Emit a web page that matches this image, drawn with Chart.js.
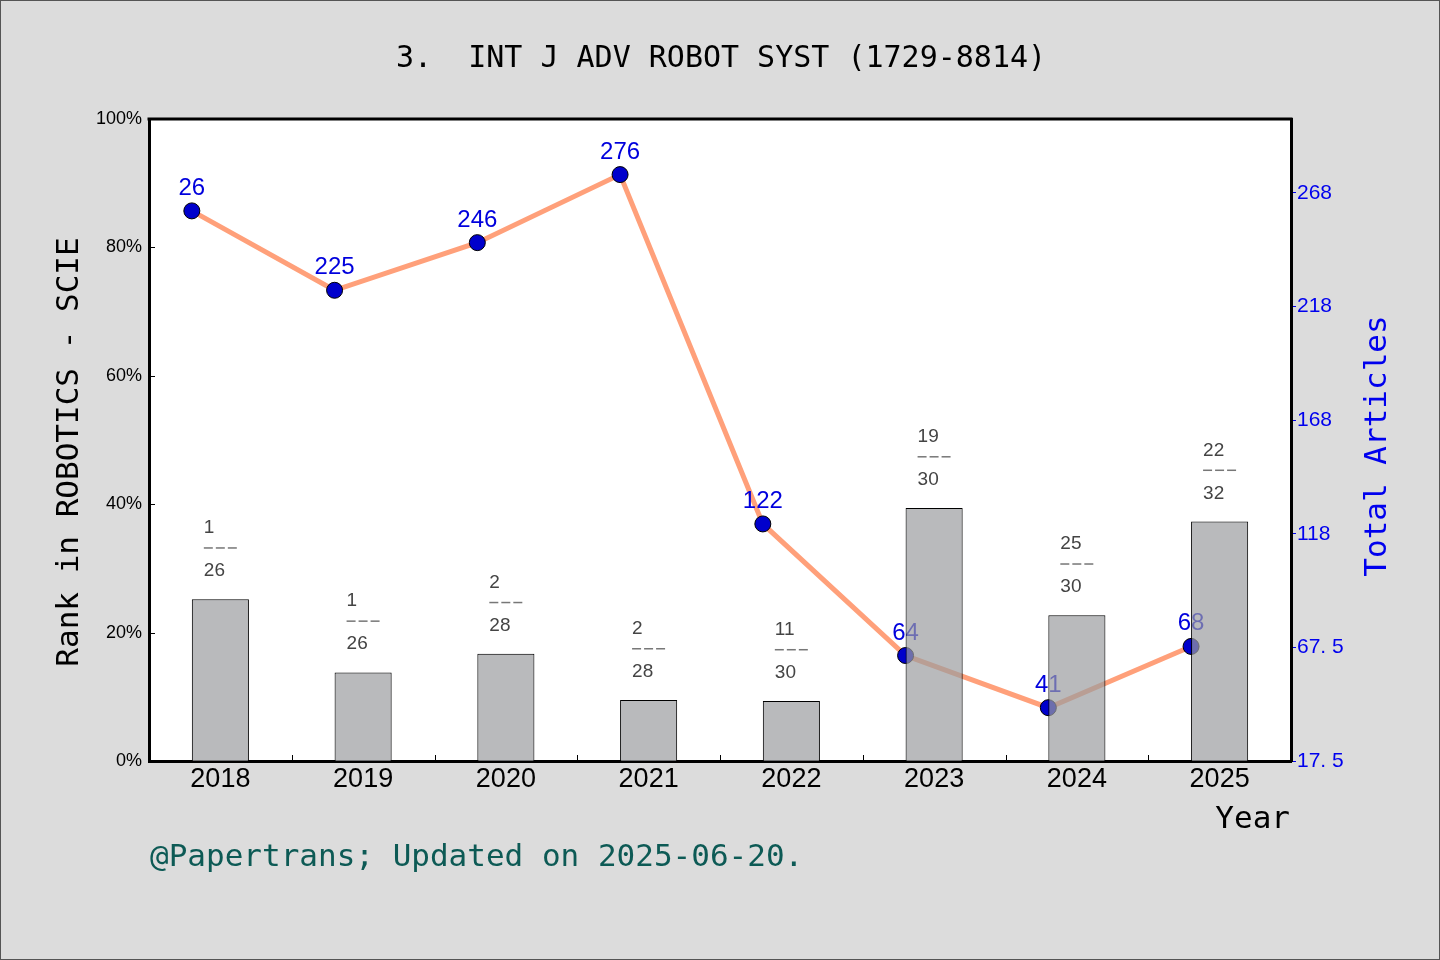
<!DOCTYPE html>
<html lang="en">
<head>
<meta charset="UTF-8">
<title>INT J ADV ROBOT SYST</title>
<script src="https://cdn.jsdelivr.net/npm/chart.js"></script>
<style>
    html, body { margin: 0; padding: 0; background: #dcdcdc; }
    canvas { display: block; }
</style>
</head>
<body>
<canvas id="grafico" width="1440" height="960"></canvas>
<script>
    // dados
    const years = ['2018', '2019', '2020', '2021', '2022', '2023', '2024', '2025'];
    const rankPercent = [25.2, 13.8, 16.7, 9.5, 9.35, 39.4, 22.7, 37.3];
    const rankTop = ['1', '1', '2', '2', '11', '19', '25', '22'];
    const rankTotal = ['26', '26', '28', '28', '30', '30', '30', '32'];
    const articles = [260, 225, 246, 276, 122, 64, 41, 68];
    const articleLabels = ['26', '225', '246', '276', '122', '64', '41', '68'];
    const leftTicks = [0, 20, 40, 60, 80, 100];
    const rightTickValues = [17.5, 67.5, 117.6, 167.7, 217.8, 267.9];
    const rightTickLabels = ['17. 5', '67. 5', '118', '168', '218', '268'];

    const lineShift = -0.2; // pontos ficam na borda esquerda da barra

    const mono = '"DejaVu Sans Mono", monospace';
    const sans = '"Liberation Sans", Arial, sans-serif';

    const fundo = {
        id: 'fundo',
        beforeDraw(chart) {
            const ctx = chart.ctx;
            const a = chart.chartArea;
            ctx.save();
            ctx.fillStyle = '#dcdcdc';
            ctx.fillRect(0, 0, chart.width, chart.height);
            ctx.strokeStyle = '#555';
            ctx.lineWidth = 1;
            ctx.strokeRect(0.5, 0.5, chart.width - 1, chart.height - 1);
            ctx.fillStyle = '#ffffff';
            ctx.fillRect(a.left, a.top, a.right - a.left, a.bottom - a.top);
            ctx.restore();
        },
        afterDatasetDraw(chart, args) {
            // rotulos da linha (ficam por baixo das barras)
            if (args.index !== 1) return;
            const ctx = chart.ctx;
            ctx.save();
            ctx.font = '24px ' + sans;
            ctx.fillStyle = '#0000dd';
            ctx.textAlign = 'center';
            ctx.textBaseline = 'alphabetic';
            args.meta.data.forEach(function (p, i) {
                ctx.fillText(articleLabels[i], p.x, p.y - 16);
            });
            ctx.restore();
        },
        afterDatasetsDraw(chart) {
            const ctx = chart.ctx;
            const a = chart.chartArea;
            const meta = chart.getDatasetMeta(0);
            ctx.save();
            ctx.font = '19px ' + sans;
            ctx.textAlign = 'left';
            ctx.textBaseline = 'alphabetic';
            meta.data.forEach(function (bar, i) {
                const x = bar.x - bar.width / 2 + 12;
                const yb = bar.y - 23;
                ctx.fillStyle = '#444';
                ctx.fillText(rankTotal[i], x, yb);
                ctx.fillText(rankTop[i], x, yb - 43);
                ctx.fillStyle = '#777';
                ctx.fillRect(x, yb - 29, 9, 1.5);
                ctx.fillRect(x + 12, yb - 29, 9, 1.5);
                ctx.fillRect(x + 24, yb - 29, 9, 1.5);
            });

            // moldura de cima
            ctx.strokeStyle = '#000';
            ctx.lineWidth = 3;
            ctx.beginPath();
            ctx.moveTo(a.left - 1.5, a.top);
            ctx.lineTo(a.right + 1.5, a.top);
            ctx.stroke();

            // ticks para dentro
            ctx.lineWidth = 1;
            const y = chart.scales.y;
            leftTicks.forEach(function (v) {
                const py = Math.round(y.getPixelForValue(v)) + 0.5;
                ctx.beginPath();
                ctx.moveTo(a.left, py);
                ctx.lineTo(a.left + 6, py);
                ctx.stroke();
            });
            const x = chart.scales.x;
            for (let i = 0; i < years.length - 1; i++) {
                const px = Math.round((x.getPixelForValue(i) + x.getPixelForValue(i + 1)) / 2) + 0.5;
                ctx.beginPath();
                ctx.moveTo(px, a.bottom);
                ctx.lineTo(px, a.bottom - 6);
                ctx.stroke();
            }
            ctx.restore();
        },
        afterDraw(chart) {
            const ctx = chart.ctx;
            ctx.save();
            ctx.textBaseline = 'alphabetic';

            ctx.font = '30px ' + mono;
            ctx.fillStyle = '#000';
            ctx.textAlign = 'center';
            ctx.fillText('3.  INT J ADV ROBOT SYST (1729-8814)', 721, 67);

            ctx.font = '31px ' + mono;
            ctx.textAlign = 'right';
            ctx.fillText('Year', 1290, 828);

            ctx.textAlign = 'left';
            ctx.fillStyle = '#0d5a55';
            ctx.fillText('@Papertrans; Updated on 2025-06-20.', 150, 866);

            ctx.save();
            ctx.translate(78, 452);
            ctx.rotate(-Math.PI / 2);
            ctx.textAlign = 'center';
            ctx.fillStyle = '#000';
            ctx.fillText('Rank in ROBOTICS - SCIE', 0, 0);
            ctx.restore();

            ctx.save();
            ctx.translate(1386, 446);
            ctx.rotate(-Math.PI / 2);
            ctx.textAlign = 'center';
            ctx.fillStyle = '#0000ee';
            ctx.fillText('Total Articles', 0, 0);
            ctx.restore();

            ctx.restore();
        }
    };

    const dados = {
        labels: years,
        datasets: [{
            type: 'bar',
            label: 'Rank',
            data: rankPercent,
            backgroundColor: 'rgba(155,157,160,0.7)',
            borderColor: '#000',
            borderWidth: 1,
            barPercentage: 0.4,
            categoryPercentage: 1,
            grouped: false,
            xAxisID: 'x',
            yAxisID: 'y',
            order: 0
        }, {
            type: 'line',
            label: 'Total Articles',
            data: articles.map(function (v, i) { return { x: i + lineShift, y: v }; }),
            borderColor: '#ffa07a',
            borderWidth: 5,
            tension: 0,
            pointRadius: 8,
            pointBackgroundColor: '#0000cc',
            pointBorderColor: '#000',
            pointBorderWidth: 1,
            xAxisID: 'xl',
            yAxisID: 'y2',
            order: 1
        }]
    };

    const config = {
        type: 'bar',
        data: dados,
        options: {
            responsive: false,
            animation: false,
            layout: { padding: { left: 0, right: 0, top: 119, bottom: 159 } },
            plugins: {
                legend: { display: false },
                tooltip: { enabled: false }
            },
            scales: {
                x: {
                    type: 'category',
                    offset: true,
                    grid: { display: false, drawTicks: false },
                    border: { display: true, color: '#000', width: 3 },
                    ticks: { color: '#000', font: { family: sans, size: 27 }, padding: 2, maxRotation: 0 },
                    afterFit(scale) { scale.height = 40; }
                },
                xl: {
                    type: 'linear',
                    display: false,
                    offset: false,
                    min: -0.5,
                    max: 7.5
                },
                y: {
                    position: 'left',
                    min: 0,
                    max: 100,
                    grid: { display: false, drawTicks: false },
                    border: { display: true, color: '#000', width: 3 },
                    afterBuildTicks(scale) { scale.ticks = leftTicks.map(function (v) { return { value: v }; }); },
                    ticks: {
                        color: '#000',
                        font: { family: sans, size: 18 },
                        padding: 7,
                        callback: function (v) { return v + '%'; }
                    },
                    afterFit(scale) { scale.width = 149; }
                },
                y2: {
                    position: 'right',
                    min: 17.5,
                    max: 300.5,
                    grid: { display: true, drawOnChartArea: false, drawTicks: true, tickLength: 5, color: '#0000ee' },
                    border: { display: true, color: '#000', width: 3 },
                    afterBuildTicks(scale) { scale.ticks = rightTickValues.map(function (v) { return { value: v }; }); },
                    ticks: {
                        color: '#0000ee',
                        font: { family: sans, size: 21 },
                        padding: 1,
                        callback: function (v, i) { return rightTickLabels[i]; }
                    },
                    afterFit(scale) { scale.width = 149; }
                }
            }
        },
        plugins: [fundo]
    };

    new Chart(document.getElementById('grafico'), config);
</script>
</body>
</html>
